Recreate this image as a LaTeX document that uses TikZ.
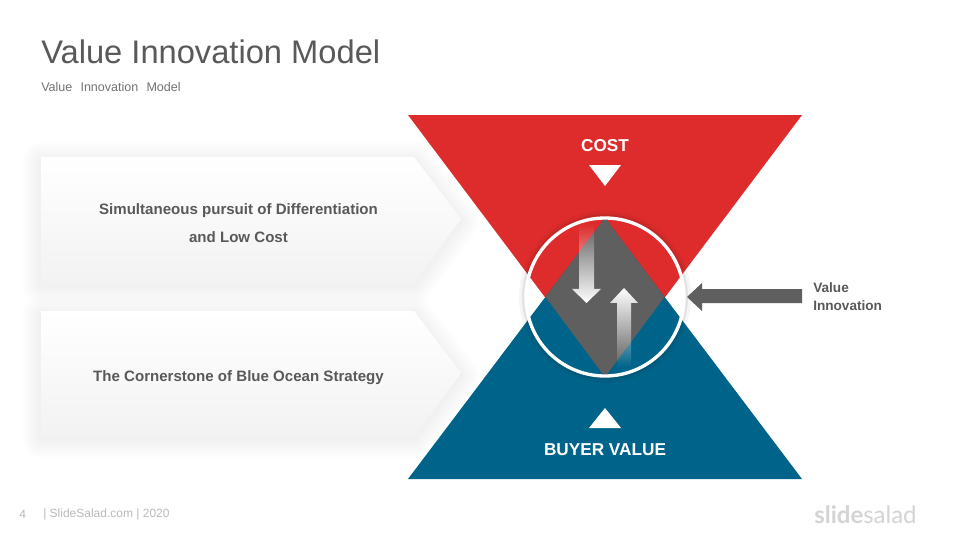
\documentclass[tikz,border=0pt]{standalone}
\usepackage{fontspec}
\setmainfont{Liberation Sans}
\newfontfamily\logofont{Lato}
\usepackage{pgf,tikz}
\usetikzlibrary{positioning,
           fadings}
\definecolor{redcost}{RGB}{222,44,44}
\definecolor{bluevalue}{RGB}{0,100,138}
\definecolor{greymid}{RGB}{95,95,95}
\definecolor{greytext}{RGB}{89,89,89}
\tikzfading[name=fadedown,top color=transparent!100,bottom color=transparent!0]
\tikzfading[name=fadeup,top color=transparent!0,bottom color=transparent!100]
\tikzset{
  panel/.style={top color=white,bottom color=black!5},
  panelshadow/.style={black,opacity=0.005,line join=round},
  paneltext/.style={font=\bfseries\fontsize{11.3}{21}\selectfont,text=greytext,align=center},
  headtext/.style={font=\bfseries\fontsize{12.9}{16}\selectfont,text=white},
  sidetext/.style={font=\bfseries\fontsize{10.2}{13.5}\selectfont,text=greytext,align=left,anchor=west},
  foottext/.style={font=\fontsize{9}{11}\selectfont,text=black!27,anchor=west}
}
\begin{document}
\begin{tikzpicture}[x=0.75pt,y=-0.75pt]
\useasboundingbox (0,0) rectangle (960,540);
\fill[white](0,0)rectangle(960,540);
% titre
\node[font=\fontsize{24.5}{28}\selectfont,text=greytext,anchor=west,inner sep=0pt] (title) at (41,52) {Value Innovation Model};
\node[font=\fontsize{9.4}{11}\selectfont,text=black!55,anchor=west,inner sep=0pt] (subtitle) at (41,87) {Value\hspace{3.5pt} Innovation\hspace{3.5pt} Model};
% panneaux
\foreach \ytop in {157,311}{
  \foreach \w in {2,4,...,28}{
    \draw[panelshadow,line width=\w pt](41,\ytop+3)--(414,\ytop+3)--(461,\ytop+65)--(414,\ytop+129)--(41,\ytop+129)--cycle;
  }
  \path[panel](41,\ytop)--(414,\ytop)--(461,\ytop+62)--(414,\ytop+126)--(41,\ytop+126)--cycle;
}
\node[paneltext] (differentiation) at (238.5,223.5) {Simultaneous pursuit of Differentiation\\and Low Cost};
\node[paneltext] (cornerstone) at (238.5,378) {The Cornerstone of Blue Ocean Strategy};
% triangles
\fill[redcost](408,115)--(802,115)--(605,377)--cycle;
\fill[bluevalue](408,479)--(802,479)--(605,218)--cycle;
\fill[greymid](605,218)--(664.5,297)--(605,377)--(545.5,297)--cycle;
\node[headtext] (cost) at (605,145.5) {COST};
\node[headtext] (buyer) at (605,449.5) {BUYER VALUE};
\fill[white](589,165)--(621,165)--(605,186)--cycle;
\fill[white](589,428)--(621,428)--(605,408)--cycle;
% fleches
\fill[white,path fading=fadedown](579,224)--(594,224)--(594,289)--(601,289)--(586.5,303)--(572,289)--(579,289)--cycle;
\fill[white,path fading=fadeup](617,367)--(631,367)--(631,303)--(638,303)--(624,288)--(610,303)--(617,303)--cycle;
% cercle
\draw[black,opacity=0.04,line width=6pt](605,297)circle(82);
\draw[black,opacity=0.07,line width=3pt](605,297)circle(81);
\draw[white,line width=2.5pt](605,297)circle(79);
% fleche laterale
\fill[greymid](802,289)--(702,289)--(702,283)--(687,297)--(702,311)--(702,303)--(802,303)--cycle;
\node[sidetext,inner sep=0pt] (valueinno) at (813,297) {Value\\Innovation};
% pied de page
\node[foottext,inner sep=0pt] (page) at (19,514) {4};
\node[foottext,inner sep=0pt] (site) at (43,514) {| SlideSalad.com | 2020};
\node[font=\logofont\fontsize{18}{20}\selectfont,text=black!17,anchor=west,inner sep=0pt] (logo) at (814,515) {\textbf{slide}salad};
\end{tikzpicture}
\end{document}
